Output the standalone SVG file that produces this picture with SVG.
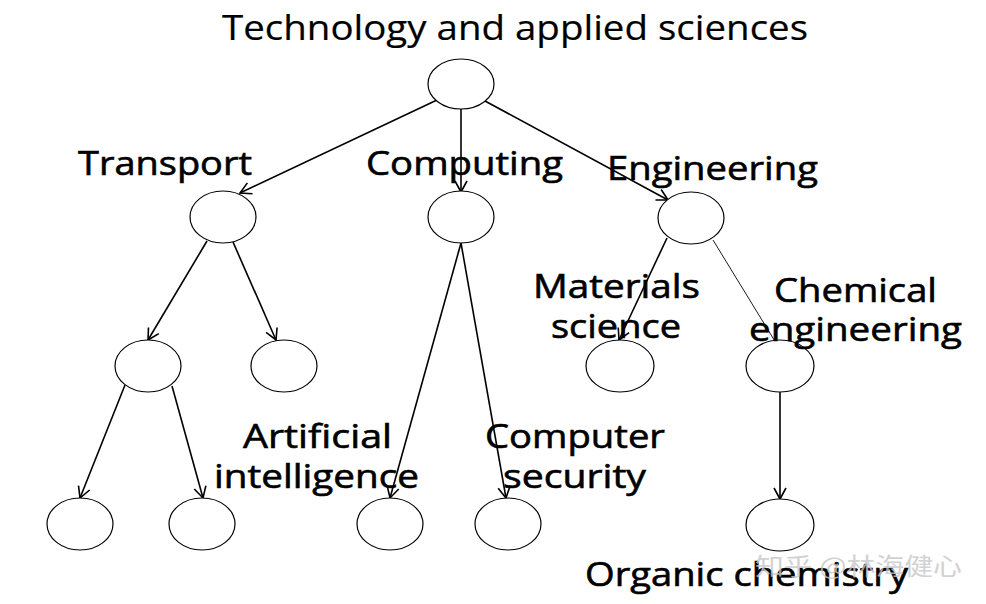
<svg xmlns="http://www.w3.org/2000/svg" width="986" height="604" viewBox="0 0 986 604">
<style>
.n{fill:#fff;stroke:#000;stroke-width:1.2}
.e{stroke:#000;stroke-width:1.6;fill:none}
.t{font-family:"Open Sans","Liberation Sans",sans-serif;fill:#000;font-size:33px;stroke:#000;stroke-width:0.6}
.h{font-family:"Open Sans","Liberation Sans",sans-serif;fill:#000;font-size:35px;stroke:#000;stroke-width:0.2}
.wm{font-family:"Noto Sans CJK SC","Noto Sans",sans-serif;fill:#c8c8c8;font-size:24px;opacity:0.8}
</style>
<defs>
<marker id="a" markerUnits="userSpaceOnUse" markerWidth="16" markerHeight="16" refX="12" refY="7" orient="auto" viewBox="0 0 16 14">
<path d="M1,1 L12,7 L1,13" fill="none" stroke="#000" stroke-width="1.6"/>
</marker>
</defs>
<rect width="986" height="604" fill="#fff"/>
<g id="connectors">
<line class="e" x1="437" y1="100" x2="240" y2="193" marker-end="url(#a)"/>
<line class="e" x1="461" y1="109" x2="461" y2="192" marker-end="url(#a)"/>
<line class="e" x1="485" y1="101" x2="668" y2="200" marker-end="url(#a)"/>
<line class="e" x1="207" y1="241" x2="148" y2="340" marker-end="url(#a)"/>
<line class="e" x1="233" y1="242" x2="276" y2="340" marker-end="url(#a)"/>
<line class="e" x1="125" y1="385" x2="80" y2="498" marker-end="url(#a)"/>
<line class="e" x1="172" y1="386" x2="203" y2="498" marker-end="url(#a)"/>
<line class="e" x1="461" y1="243" x2="390" y2="498" marker-end="url(#a)"/>
<line class="e" x1="461" y1="243" x2="506" y2="498" marker-end="url(#a)"/>
<line class="e" x1="667" y1="238" x2="619" y2="340" marker-end="url(#a)"/>
<line x1="713" y1="240" x2="776" y2="343" stroke="#000" stroke-width="0.9"/>
<line class="e" x1="780" y1="392" x2="780" y2="499" marker-end="url(#a)"/>
</g>
<g id="root"><ellipse class="n" cx="461" cy="84" rx="33" ry="25"/><text class="h" x="222" y="40" textLength="586" lengthAdjust="spacingAndGlyphs">Technology and applied sciences</text></g>
<g id="transport"><ellipse class="n" cx="223" cy="217" rx="33" ry="26"/><text class="t" x="78" y="175" textLength="174" lengthAdjust="spacingAndGlyphs">Transport</text></g>
<g id="computing"><ellipse class="n" cx="461" cy="217" rx="33" ry="26"/><text class="t" x="366" y="175" textLength="197" lengthAdjust="spacingAndGlyphs">Computing</text></g>
<g id="engineering"><ellipse class="n" cx="691" cy="218" rx="33" ry="26"/><text class="t" x="607" y="180" textLength="211" lengthAdjust="spacingAndGlyphs">Engineering</text></g>
<g id="t1"><ellipse class="n" cx="148" cy="366" rx="33" ry="26"/></g>
<g id="t2"><ellipse class="n" cx="284" cy="366" rx="33" ry="26"/></g>
<g id="materials"><ellipse class="n" cx="620" cy="366" rx="34" ry="26"/><text class="t" x="533" y="298" textLength="167" lengthAdjust="spacingAndGlyphs">Materials</text><text class="t" x="551" y="338" textLength="130" lengthAdjust="spacingAndGlyphs">science</text></g>
<g id="chemical"><ellipse class="n" cx="780" cy="366" rx="34" ry="26"/><text class="t" x="774" y="302" textLength="163" lengthAdjust="spacingAndGlyphs">Chemical</text><text class="t" x="749" y="341" textLength="213" lengthAdjust="spacingAndGlyphs">engineering</text></g>
<g id="t11"><ellipse class="n" cx="80" cy="524" rx="33" ry="26"/></g>
<g id="t12"><ellipse class="n" cx="202" cy="524" rx="33" ry="26"/></g>
<g id="ai"><ellipse class="n" cx="390" cy="524" rx="33" ry="26"/><text class="t" x="243" y="448" textLength="149" lengthAdjust="spacingAndGlyphs">Artificial</text><text class="t" x="214" y="488" textLength="205" lengthAdjust="spacingAndGlyphs">intelligence</text></g>
<g id="security"><ellipse class="n" cx="508" cy="524" rx="33" ry="26"/><text class="t" x="485" y="448" textLength="180" lengthAdjust="spacingAndGlyphs">Computer</text><text class="t" x="503" y="488" textLength="143" lengthAdjust="spacingAndGlyphs">security</text></g>
<g id="organic"><ellipse class="n" cx="780" cy="525" rx="34" ry="26"/><text class="t" x="585" y="586" textLength="323" lengthAdjust="spacingAndGlyphs">Organic chemistry</text></g>
<text class="wm" x="755" y="575" textLength="207" lengthAdjust="spacingAndGlyphs">知乎 @林海健心</text>
</svg>
